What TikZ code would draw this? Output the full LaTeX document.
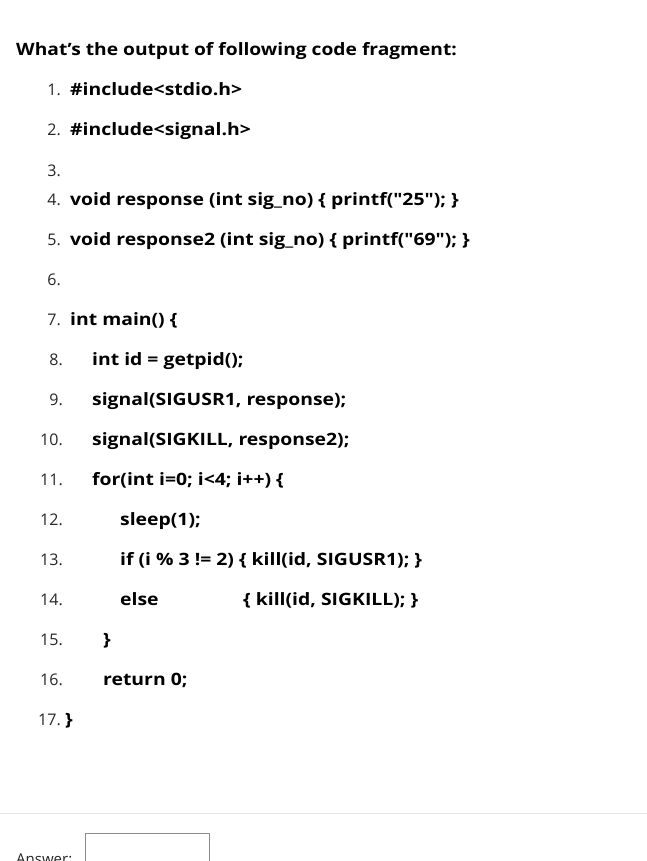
\documentclass[tikz,border=0pt]{standalone}
\usepackage{fontspec}
\setmainfont{Open Sans}
\newfontfamily\codefont[FakeStretch=1.14]{Open Sans}
\newfontfamily\titlefont[FakeStretch=1.13]{Open Sans}
\begin{document}
\begin{tikzpicture}[x=1pt,y=-1pt,
  num/.style={anchor=base east,inner sep=0,font=\fontsize{16}{18}\selectfont,text=black!85},
  code/.style={anchor=base west,inner sep=0,font=\codefont\fontsize{17}{19}\selectfont\bfseries}]
\useasboundingbox[fill=white] (0,0) rectangle (647,861);
\node[anchor=base west,inner sep=0,font=\titlefont\fontsize{17}{19}\selectfont\bfseries] (t) at (16,56) {What’s the output of following code fragment:};
\foreach \n/\y in {1/96,2/136,3/176,4/205,5/245,6/285,7/325,17/725}{\node[num] (n\n) at (61,\y) {\n.};}
\foreach \n/\y in {8/365,9/405,10/445,11/485,12/525,13/565,14/605,15/645,16/685}{\node[num] (n\n) at (63,\y) {\n.};}
\node[code] (c1) at (70,96) {\#include<stdio.h>};
\node[code] (c2) at (70,136) {\#include<signal.h>};
\node[code] (c4) at (70,205) {void response (int sig\_no) \{ printf("25"); \}};
\node[code] (c5) at (70,245) {void response2 (int sig\_no) \{ printf("69"); \}};
\node[code] (c7) at (70,325) {int main() \{};
\node[code] (c8) at (92,365) {int id = getpid();};
\node[code] (c9) at (92,405) {signal(SIGUSR1, response);};
\node[code] (c10) at (92,445) {signal(SIGKILL, response2);};
\node[code] (c11) at (92,485) {for(int i=0; i<4; i++) \{};
\node[code] (c12) at (120,525) {sleep(1);};
\node[code] (c13) at (120,565) {if (i \% 3 != 2) \{ kill(id, SIGUSR1); \}};
\node[code] (c14) at (120,605) {else};
\node[code] (c14b) at (243,605) {\{ kill(id, SIGKILL); \}};
\node[code] (c15) at (103,645) {\}};
\node[code] (c16) at (103,685) {return 0;};
\node[code] (c17) at (65,725) {\}};
\draw[black!10] (0,813) -- (647,813);
\node[anchor=base west,inner sep=0,font=\fontsize{15}{17}\selectfont,text=black!85] (ans) at (16,864) {Answer:};
\draw[black!45] (85.5,861) -- (85.5,833.5) -- (209.5,833.5) -- (209.5,861);
\end{tikzpicture}
\end{document}
